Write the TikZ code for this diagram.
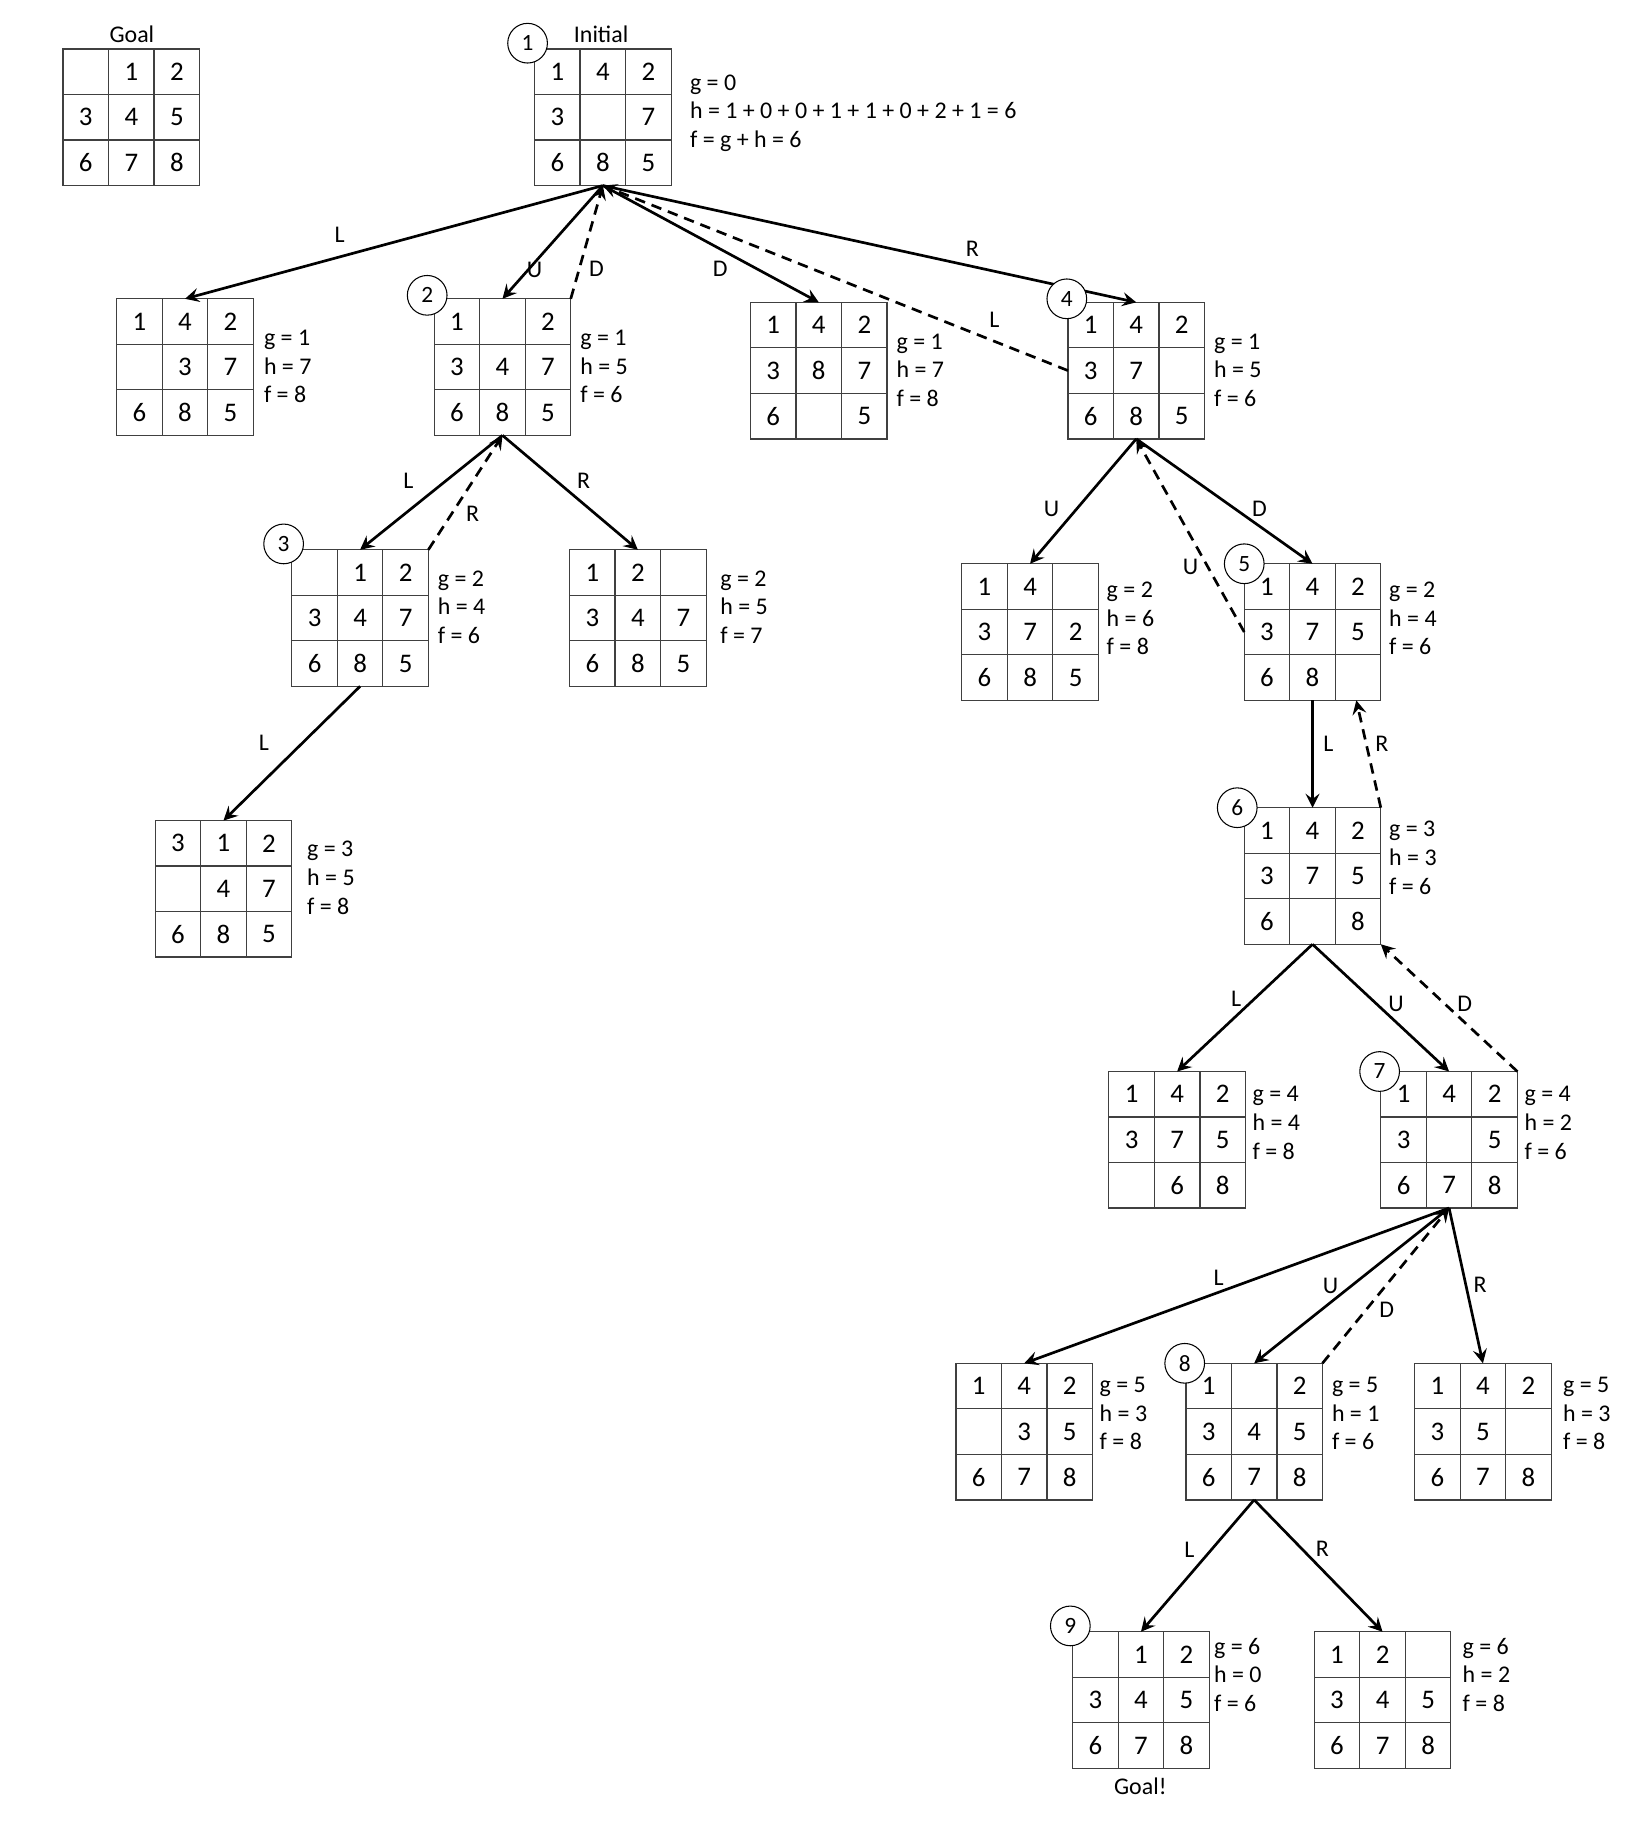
\documentclass[tikz,border=0pt]{standalone}
\usepackage{fontspec}
\setmainfont{Carlito}
\usetikzlibrary{calc,arrows.meta}
\tikzset{
  puzbox/.style={draw=black!75, line width=1.1pt, minimum width=117pt, minimum height=117pt, inner sep=0pt, outer sep=0pt},
  gline/.style={draw=black!75, line width=1.1pt},
  cellnum/.style={font=\fontsize{23}{27}\selectfont, inner sep=0pt},
  info/.style={font=\fontsize{20.5}{24.5}\selectfont, align=left, anchor=west, inner sep=0pt},
  numc/.style={circle, draw, fill=white, line width=0.9pt, minimum size=34pt, inner sep=0pt, font=\fontsize{20}{22}\selectfont},
  lbl/.style={font=\fontsize{20.5}{22}\selectfont, inner sep=0pt},
  mv/.style={line width=2.3pt, -{Stealth[length=12pt,width=12pt,inset=4.5pt]}},
  bk/.style={mv, dash pattern=on 9pt off 6pt},
}
\newcommand\puz[4]{%
  \node[puzbox] (#1) at ({#2+58.5},{#3+58.5}) {};
  \draw[gline] ($(#1.north west)+(39,0)$) -- ($(#1.south west)+(39,0)$);
  \draw[gline] ($(#1.north west)+(78,0)$) -- ($(#1.south west)+(78,0)$);
  \draw[gline] ($(#1.north west)+(0,39)$) -- ($(#1.north east)+(0,39)$);
  \draw[gline] ($(#1.north west)+(0,78)$) -- ($(#1.north east)+(0,78)$);
  \foreach \v [count=\i from 0] in {#4} {
    \pgfmathtruncatemacro\cc{mod(\i,3)}
    \pgfmathtruncatemacro\rr{\i/3}
    \node[cellnum] (#1-\i) at ($(#1.north west)+(\cc*39+19.5,\rr*39+19.5)$) {\v};
  }
}
\begin{document}
\begin{tikzpicture}[x=1pt,y=-1pt]
\useasboundingbox (0,0) rectangle (1408,1567);
% grids
\puz{goal}{54}{42}{{},1,2,3,4,5,6,7,8}
\puz{n1}{458}{42}{1,4,2,3,{},7,6,8,5}
\puz{l1}{100}{256}{1,4,2,{},3,7,6,8,5}
\puz{n2}{372}{256}{1,{},2,3,4,7,6,8,5}
\puz{nd}{643}{259}{1,4,2,3,8,7,6,{},5}
\puz{n4}{915}{259}{1,4,2,3,7,{},6,8,5}
\puz{n3}{250}{471}{{},1,2,3,4,7,6,8,5}
\puz{n2r}{488}{471}{1,2,{},3,4,7,6,8,5}
\puz{n3l}{133}{703}{3,1,2,{},4,7,6,8,5}
\puz{n4u}{824}{483}{1,4,{},3,7,2,6,8,5}
\puz{n5}{1066}{483}{1,4,2,3,7,5,6,8,{}}
\puz{n6}{1066}{692}{1,4,2,3,7,5,6,{},8}
\puz{n6l}{950}{918}{1,4,2,3,7,5,{},6,8}
\puz{n7}{1183}{918}{1,4,2,3,{},5,6,7,8}
\puz{n7l}{819}{1168}{1,4,2,{},3,5,6,7,8}
\puz{n8}{1016}{1168}{1,{},2,3,4,5,6,7,8}
\puz{n7r}{1212}{1168}{1,4,2,3,5,{},6,7,8}
\puz{n9}{919}{1398}{{},1,2,3,4,5,6,7,8}
\puz{n8r}{1126}{1398}{1,2,{},3,4,5,6,7,8}
% info texts
\node[info] (t1) at (591,97) {g = 0\\h = 1 + 0 + 0 + 1 + 1 + 0 + 2 + 1 = 6\\f = g + h = 6};
\node[info] (tl1) at (226,314) {g = 1\\h = 7\\f = 8};
\node[info] (t2) at (497,314) {g = 1\\h = 5\\f = 6};
\node[info] (td) at (768,317) {g = 1\\h = 7\\f = 8};
\node[info] (t4) at (1040,317) {g = 1\\h = 5\\f = 6};
\node[info] (t3) at (375,520) {g = 2\\h = 4\\f = 6};
\node[info] (t2r) at (617,520) {g = 2\\h = 5\\f = 7};
\node[info] (t3l) at (263,752) {g = 3\\h = 5\\f = 8};
\node[info] (t4u) at (948,530) {g = 2\\h = 6\\f = 8};
\node[info] (t5) at (1190,530) {g = 2\\h = 4\\f = 6};
\node[info] (t6) at (1190,735) {g = 3\\h = 3\\f = 6};
\node[info] (t6l) at (1073,962) {g = 4\\h = 4\\f = 8};
\node[info] (t7) at (1306,962) {g = 4\\h = 2\\f = 6};
\node[info] (t7l) at (942,1211) {g = 5\\h = 3\\f = 8};
\node[info] (t8) at (1141,1211) {g = 5\\h = 1\\f = 6};
\node[info] (t7r) at (1339,1211) {g = 5\\h = 3\\f = 8};
\node[info] (t9) at (1040,1435) {g = 6\\h = 0\\f = 6};
\node[info] (t8r) at (1253,1435) {g = 6\\h = 2\\f = 8};
% titles
\node[lbl] (goaltitle) at (113,29) {Goal};
\node[lbl] (inittitle) at (515,29) {Initial};
\node[lbl] (goaldone) at (977,1530) {Goal!};
% edges
\draw[mv] (n1.south) -- (l1.north);
\draw[mv] (n1.south) -- (n2.north);
\draw[bk] (n2.north east) -- (n1.south);
\draw[mv] (n1.south) -- (nd.north);
\draw[mv] (n1.south) -- (n4.north);
\draw[bk] (n4.west) -- (n1.south);
\draw[mv] (n2.south) -- (n3.north);
\draw[bk] (n3.north east) -- (n2.south);
\draw[mv] (n2.south) -- (n2r.north);
\draw[mv] (n3.south) -- (n3l.north);
\draw[mv] (n4.south) -- (n4u.north);
\draw[mv] (n4.south) -- (n5.north);
\draw[bk] (n5.west) -- (n4.south);
\draw[mv] (n5.south) -- (n6.north);
\coordinate (n5r) at ($(n5.south east)+(-21,0)$);
\draw[bk] (n6.north east) -- (n5r);
\draw[mv] (n6.south) -- (n6l.north);
\draw[mv] (n6.south) -- (n7.north);
\draw[bk] (n7.north east) -- (n6.south east);
\draw[mv] (n7.south) -- (n7l.north);
\draw[mv] (n7.south) -- (n8.north);
\draw[bk] (n8.north east) -- (n7.south);
\draw[mv] (n7.south) -- (n7r.north);
\draw[mv] (n8.south) -- (n9.north);
\draw[mv] (n8.south) -- (n8r.north);
% edge labels
\node[lbl] (e1) at (291,201) {L};
\node[lbl] (e2) at (458,231) {U};
\node[lbl] (e3) at (511,230) {D};
\node[lbl] (e4) at (617,230) {D};
\node[lbl] (e5) at (833,213) {R};
\node[lbl] (e6) at (852,274) {L};
\node[lbl] (e7) at (350,412) {L};
\node[lbl] (e8) at (405,440) {R};
\node[lbl] (e9) at (500,412) {R};
\node[lbl] (e10) at (226,636) {L};
\node[lbl] (e11) at (901,436) {U};
\node[lbl] (e12) at (1079,436) {D};
\node[lbl] (e13) at (1020,486) {U};
\node[lbl] (e14) at (1138,637) {L};
\node[lbl] (e15) at (1184,637) {R};
\node[lbl] (e16) at (1059,856) {L};
\node[lbl] (e17) at (1196,860) {U};
\node[lbl] (e18) at (1255,860) {D};
\node[lbl] (e19) at (1044,1095) {L};
\node[lbl] (e20) at (1140,1102) {U};
\node[lbl] (e21) at (1188,1122) {D};
\node[lbl] (e22) at (1268,1101) {R};
\node[lbl] (e23) at (1019,1328) {L};
\node[lbl] (e24) at (1133,1327) {R};
% step numbers
\node[numc] (c1) at (452,37) {1};
\node[numc] (c2) at (366,253) {2};
\node[numc] (c4) at (914,256) {4};
\node[numc] (c3) at (243,466) {3};
\node[numc] (c5) at (1066,483) {5};
\node[numc] (c6) at (1060,692) {6};
\node[numc] (c7) at (1182,918) {7};
\node[numc] (c8) at (1015,1168) {8};
\node[numc] (c9) at (917,1393) {9};
\end{tikzpicture}
\end{document}
